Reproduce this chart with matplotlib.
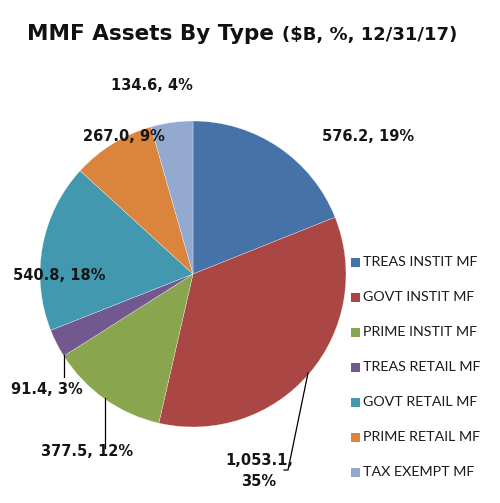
import matplotlib
matplotlib.use('Agg')
import matplotlib.pyplot as plt
from matplotlib.patches import Rectangle

plt.rcParams['font.family'] = ['DejaVu Sans']

# 数据
categories = ['TREAS INSTIT MF', 'GOVT INSTIT MF', 'PRIME INSTIT MF', 'TREAS RETAIL MF',
              'GOVT RETAIL MF', 'PRIME RETAIL MF', 'TAX EXEMPT MF']
values = [576.2, 1053.1, 377.5, 91.4, 540.8, 267.0, 134.6]
colors = ['#4572A7', '#AA4643', '#89A54E', '#71588F', '#4198AF', '#DB843D', '#93A9CF']

W, H = 500, 503
total = sum(values)


def fmt(v):
    return f"{v:,.1f}, {round(v / total * 100):.0f}%"


# 标签位置（像素，y向下）
label_pos = [(368, 136), (259, 471), (87, 452), (47, 390), (59, 276), (124, 136), (152, 85)]

fig = plt.figure(figsize=(W / 100, H / 100), dpi=100)
ax = fig.add_axes([0, 0, 1, 1])
ax.set_xlim(0, W)
ax.set_ylim(0, H)
ax.set_aspect('equal')
ax.axis('off')

ax.pie(values, colors=colors, startangle=90, counterclock=False,
       center=(193, H - 274), radius=153,
       wedgeprops=dict(edgecolor='white', linewidth=0.2))
ax.set_xlim(0, W)
ax.set_ylim(0, H)

# 标题（两种字号连在一起）
t1 = ax.text(27, H - 40, 'MMF Assets By Type ', fontsize=15.5, fontweight='bold',
             ha='left', va='baseline', color='#111111')
fig.canvas.draw()
bb = t1.get_window_extent()
ax.text(bb.x1, H - 40, '($B, %, 12/31/17)', fontsize=13, fontweight='bold',
        ha='left', va='baseline', color='#111111')

# 数据标签
for i, (v, (x, y)) in enumerate(zip(values, label_pos)):
    txt = fmt(v)
    if i == 1:
        txt = txt.replace(', ', ',\n')
    ax.text(x, H - y, txt, fontsize=10.5, fontweight='bold', ha='center', va='center',
            color='#151515', linespacing=1.45)

# 引导线
ax.plot([64, 64], [H - 355, H - 377], color='black', lw=0.9)
ax.plot([105, 105], [H - 398, H - 448], color='black', lw=0.9)
ax.plot([308, 288, 284], [H - 373, H - 470, H - 470], color='black', lw=0.9)

# 图例
for i, (c, name) in enumerate(zip(colors, categories)):
    y = 262 + i * 35
    ax.add_patch(Rectangle((351, H - y - 4.5), 9, 9, facecolor=c, edgecolor='none'))
    ax.text(363, H - y, name, fontsize=10.3, ha='left', va='center', color='#1a1a1a',
            family='Lato')

fig.savefig('out.png', dpi=100)
